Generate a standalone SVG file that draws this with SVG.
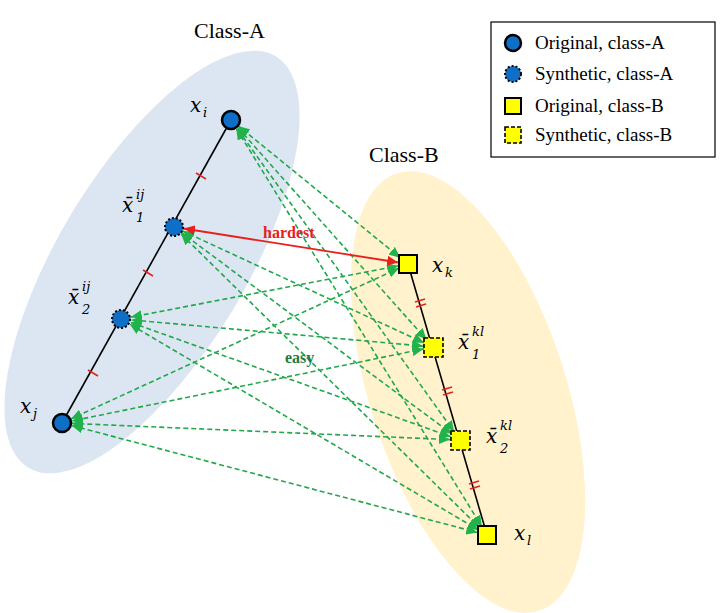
<svg xmlns="http://www.w3.org/2000/svg" width="724" height="613" viewBox="0 0 724 613">
<style>
.lbl{font-family:"Liberation Serif",serif;font-size:22px;fill:#000}
.m{font-family:"DejaVu Serif","Liberation Serif",serif;font-style:italic;font-size:20px;fill:#000}
.s{font-family:"DejaVu Serif","Liberation Serif",serif;font-style:italic;font-size:13px;fill:#000}
.leg{font-family:"Liberation Serif",serif;font-size:19px;fill:#000}
.g{stroke:#22a84a;stroke-width:1.6;stroke-dasharray:5,3;fill:none;marker-start:url(#ga);marker-end:url(#ga)}
.tick{stroke:#e8201c;stroke-width:1.6}
.oa{fill:#0f6fc6;stroke:#000;stroke-width:2.5}
.sa{fill:#0f6fc6;stroke:#000;stroke-width:2;stroke-dasharray:2,2}
.ob{fill:#ffff00;stroke:#000;stroke-width:2}
.sb{fill:#ffff00;stroke:#000;stroke-width:1.6;stroke-dasharray:4,2}
</style>
<defs>
<marker id="ga" viewBox="0 0 22 10" refX="21" refY="5" markerWidth="22" markerHeight="10" markerUnits="userSpaceOnUse" orient="auto-start-reverse"><path d="M0,0 L11,5 L0,10 z" fill="#22b24c"/></marker>
<marker id="ra" viewBox="0 0 22 10" refX="21" refY="5" markerWidth="22" markerHeight="10" markerUnits="userSpaceOnUse" orient="auto-start-reverse"><path d="M0,0 L11,5 L0,10 z" fill="#e8201c"/></marker>
</defs>
<ellipse cx="152" cy="262" rx="94" ry="240" transform="rotate(31 152 262)" fill="#dce6f2"/>
<ellipse cx="468" cy="392" rx="98" ry="230" transform="rotate(-18 468 392)" fill="#fff2cc"/>
<text class="lbl" x="194" y="38">Class-A</text>
<text class="lbl" x="369" y="162">Class-B</text>
<g id="connectors">
<line x1="231" y1="120" x2="62" y2="423" stroke="#000" stroke-width="1.6"/>
<line x1="408" y1="264" x2="487" y2="535" stroke="#000" stroke-width="1.6"/>
<g class="tick">
<line x1="196" y1="173" x2="206" y2="179"/><line x1="143" y1="270" x2="153" y2="276"/><line x1="88" y1="370" x2="98" y2="376"/>
<line x1="415" y1="302" x2="425" y2="299"/><line x1="416" y1="307" x2="426" y2="304"/>
<line x1="442" y1="390" x2="452" y2="387"/><line x1="443" y1="395" x2="453" y2="392"/>
<line x1="469" y1="484" x2="479" y2="481"/><line x1="470" y1="489" x2="480" y2="486"/>
</g>
<line x1="408" y1="264" x2="231" y2="120" class="g"/>
<line x1="408" y1="264" x2="121" y2="319" class="g"/>
<line x1="408" y1="264" x2="62" y2="423" class="g"/>
<line x1="433" y1="347" x2="231" y2="120" class="g"/>
<line x1="433" y1="347" x2="174" y2="227" class="g"/>
<line x1="433" y1="347" x2="121" y2="319" class="g"/>
<line x1="433" y1="347" x2="62" y2="423" class="g"/>
<line x1="460" y1="440" x2="231" y2="120" class="g"/>
<line x1="460" y1="440" x2="174" y2="227" class="g"/>
<line x1="460" y1="440" x2="121" y2="319" class="g"/>
<line x1="460" y1="440" x2="62" y2="423" class="g"/>
<line x1="487" y1="535" x2="231" y2="120" class="g"/>
<line x1="487" y1="535" x2="174" y2="227" class="g"/>
<line x1="487" y1="535" x2="121" y2="319" class="g"/>
<line x1="487" y1="535" x2="62" y2="423" class="g"/>
<line x1="408" y1="264" x2="174" y2="227" stroke="#e8201c" stroke-width="1.8" marker-start="url(#ra)" marker-end="url(#ra)"/>
<text x="263" y="238" font-family="Liberation Serif,serif" font-weight="bold" font-size="16" fill="#e8201c">hardest</text>
<text x="285" y="363" font-family="Liberation Serif,serif" font-weight="bold" font-size="16" fill="#1f7a3c">easy</text>
</g>
<g id="xi"><circle cx="231" cy="120" r="9" class="oa"/><text class="m" x="190" y="112">x</text><text class="s" x="203" y="117">i</text></g>
<g id="x1ij"><circle cx="174" cy="227" r="9" class="sa"/><text class="m" x="122" y="212">x̄</text><text class="s" x="136" y="199">ij</text><text class="s" x="136" y="222">1</text></g>
<g id="x2ij"><circle cx="121" cy="319" r="9" class="sa"/><text class="m" x="68" y="304">x̄</text><text class="s" x="82" y="291">ij</text><text class="s" x="82" y="314">2</text></g>
<g id="xj"><circle cx="62" cy="423" r="9" class="oa"/><text class="m" x="20" y="413">x</text><text class="s" x="33" y="418">j</text></g>
<g id="xk"><rect x="399" y="255" width="18" height="18" class="ob"/><text class="m" x="432" y="272">x</text><text class="s" x="445" y="277">k</text></g>
<g id="x1kl"><rect x="424" y="338" width="19" height="19" class="sb"/><text class="m" x="458" y="349">x̄</text><text class="s" x="472" y="336">kl</text><text class="s" x="472" y="359">1</text></g>
<g id="x2kl"><rect x="451" y="431" width="19" height="19" class="sb"/><text class="m" x="486" y="443">x̄</text><text class="s" x="500" y="430">kl</text><text class="s" x="500" y="453">2</text></g>
<g id="xl"><rect x="478" y="526" width="18" height="18" class="ob"/><text class="m" x="514" y="540">x</text><text class="s" x="527" y="545">l</text></g>
<g id="legend">
<rect x="491" y="22" width="224" height="135" fill="#fff" stroke="#000" stroke-width="1.2"/>
<circle cx="513" cy="43" r="8" class="oa"/><text class="leg" x="535" y="49">Original, class-A</text>
<circle cx="513" cy="74" r="8" class="sa"/><text class="leg" x="535" y="80">Synthetic, class-A</text>
<rect x="505" y="98" width="16" height="16" class="ob"/><text class="leg" x="535" y="112">Original, class-B</text>
<rect x="505" y="127" width="16" height="16" class="sb"/><text class="leg" x="535" y="141">Synthetic, class-B</text>
</g>
</svg>
